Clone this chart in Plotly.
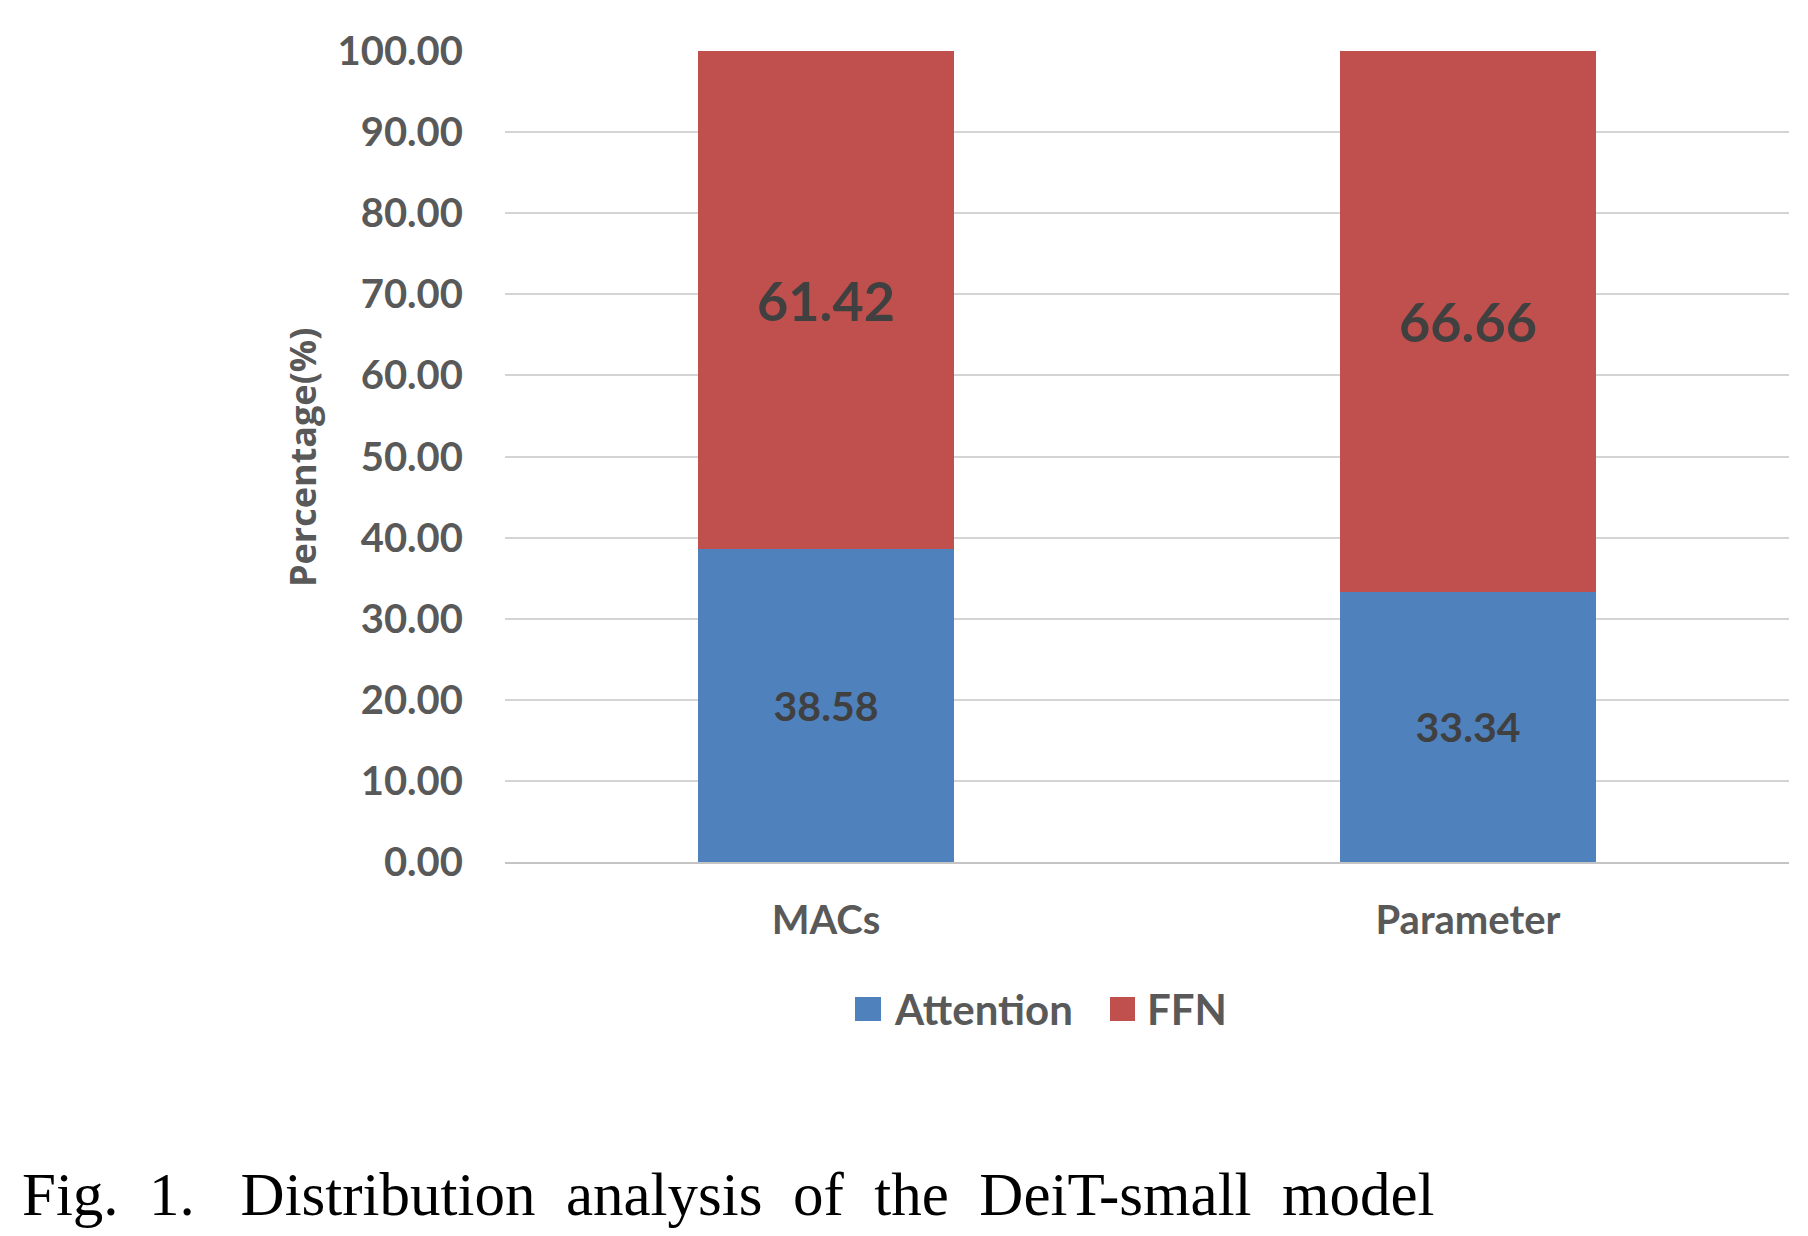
import plotly.graph_objects as go

categories = ["MACs", "Parameter"]
attention = [38.58, 33.34]
ffn = [61.42, 66.66]
tick_vals = [0, 10, 20, 30, 40, 50, 60, 70, 80, 90, 100]
series_names = ["Attention", "FFN"]
series_colors = ["#4F81BD", "#C0504D"]

W, H = 1808, 1236
L, R, T, B = 497, 27, 43, 382
pw, ph = W - L - R, H - T - B

def px_x(px):
    return (px - L) / pw

def px_y(py):
    return (H - B - py) / ph

font_main = "Lato"
gray = "#595959"
dark = "#404040"

fig = go.Figure()
fig.add_trace(go.Bar(
    x=categories, y=attention, name=series_names[0],
    marker=dict(color=series_colors[0], line=dict(width=0)),
    text=[f"{v:.2f}" for v in attention], textposition="inside",
    insidetextanchor="middle",
    textfont=dict(family=font_main, size=41, color=dark, weight="bold"),
    showlegend=False,
))
fig.add_trace(go.Bar(
    x=categories, y=ffn, name=series_names[1],
    marker=dict(color=series_colors[1], line=dict(width=0)),
    text=[f"{v:.2f}" for v in ffn], textposition="inside",
    insidetextanchor="middle",
    textfont=dict(family=font_main, size=54, color=dark, weight="bold"),
    showlegend=False,
))

fig.update_layout(
    barmode="stack",
    bargap=0.6,
    width=W, height=H,
    margin=dict(l=L, r=R, t=T, b=B),
    paper_bgcolor="white", plot_bgcolor="white",
    showlegend=False,
)

fig.update_yaxes(
    range=[0, 100], tickvals=tick_vals, tickformat=".2f",
    showgrid=True, gridcolor="#D4D4D4", gridwidth=2,
    zeroline=False, showline=False,
    ticks="outside", ticklen=33, tickcolor="rgba(0,0,0,0)",
    tickfont=dict(family=font_main, size=40, color=gray, weight="bold"),
)
fig.update_xaxes(
    showgrid=False, showline=True, linecolor="#C4C4C4", linewidth=2,
    ticks="outside", ticklen=22, tickcolor="rgba(0,0,0,0)",
    tickfont=dict(family=font_main, size=40, color=gray, weight="bold"),
)

# y axis title
fig.add_annotation(
    text="Percentage(%)", xref="paper", yref="paper",
    x=px_x(294), y=px_y(450), xanchor="center", yanchor="middle",
    textangle=-90, showarrow=False,
    font=dict(family="Open Sans", size=36, color=gray, weight="bold"),
)

# legend (drawn manually to get large square keys)
legend_sq = [(847, 873), (1102, 1127)]
legend_txt_x = [887, 1140]
for name, col, (x0, x1), tx in zip(series_names, series_colors, legend_sq, legend_txt_x):
    fig.add_shape(
        type="rect", xref="paper", yref="paper",
        x0=px_x(x0), x1=px_x(x1), y0=px_y(1013), y1=px_y(989),
        fillcolor=col, line=dict(width=0),
    )
    fig.add_annotation(
        text=name, xref="paper", yref="paper",
        x=px_x(tx - 3), y=px_y(1001), xanchor="left", yanchor="middle",
        showarrow=False,
        font=dict(family=font_main, size=42, color=gray, weight="bold"),
    )

# caption
fig.add_annotation(
    text="Fig.&nbsp; 1.&nbsp;&nbsp; Distribution&nbsp; analysis&nbsp; of&nbsp; the&nbsp; DeiT-small&nbsp; model",
    xref="paper", yref="paper",
    x=px_x(12), y=px_y(1186), xanchor="left", yanchor="middle",
    showarrow=False,
    font=dict(family="Liberation Serif", size=61, color="black"),
)

fig.write_html("out.html")
